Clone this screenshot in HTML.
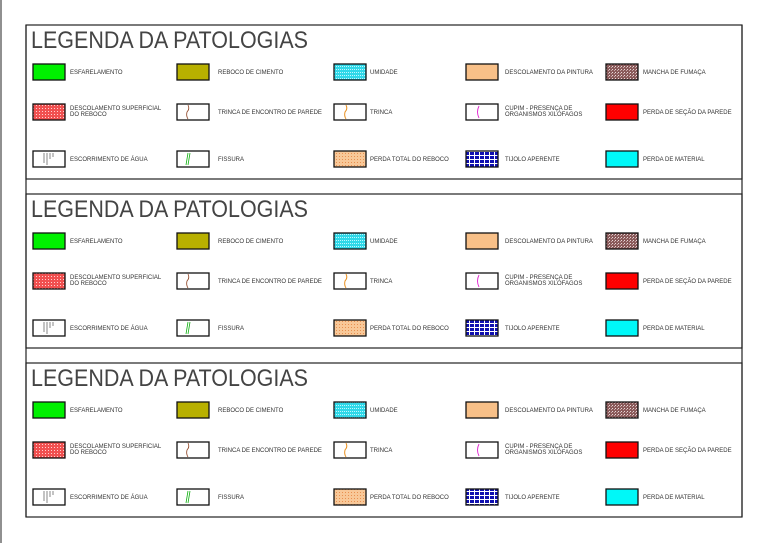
<!DOCTYPE html>
<html><head><meta charset="utf-8"><style>
html,body{margin:0;padding:0;background:#fff;width:768px;height:543px;overflow:hidden}
svg{display:block}
text{font-family:"Liberation Sans",sans-serif}
</style></head><body>
<svg id="s" width="768" height="543" viewBox="0 0 768 543" xmlns="http://www.w3.org/2000/svg">
<defs>
<pattern id="pRed" width="3" height="3" patternUnits="userSpaceOnUse"><rect width="3" height="3" fill="#f05050"/><rect width="1" height="1" fill="#ffd0d0"/></pattern>
<pattern id="pCyan" width="2" height="3" patternUnits="userSpaceOnUse"><rect width="2" height="3" fill="#30d8e8"/><rect width="1" height="1" fill="#c0f8ff"/></pattern>
<pattern id="pOrange" width="3" height="3" patternUnits="userSpaceOnUse"><rect width="3" height="3" fill="#f8c898"/><rect width="1" height="1" fill="#e89050"/></pattern>
<pattern id="pBrick" width="5" height="4" patternUnits="userSpaceOnUse"><rect width="5" height="4" fill="#fff"/><rect width="4" height="3" fill="#1010b0"/></pattern>
<pattern id="pSmoke" width="3" height="3" patternUnits="userSpaceOnUse"><rect width="3" height="3" fill="#8a5a5a"/><rect width="1" height="1" fill="#e8d8d8"/><rect x="2" y="1" width="1" height="1" fill="#c8a8a8"/></pattern>
</defs>
<line x1="1" y1="0" x2="1" y2="543" stroke="#222" stroke-width="1"/>
<line x1="742" y1="25" x2="742" y2="517" stroke="#222" stroke-width="1.2"/>
<line x1="26" y1="25" x2="26" y2="517" stroke="#222" stroke-width="1.2"/>
</svg>
<script>
const items = [
 ["ESFARELAMENTO","#00f000","solid"],["REBOCO DE CIMENTO","#b8b000","solid"],["UMIDADE","url(#pCyan)","solid"],["DESCOLAMENTO DA PINTURA","#f8c088","solid"],["MANCHA DE FUMAÇA","url(#pSmoke)","solid"],
 ["DESCOLAMENTO SUPERFICIAL|DO REBOCO","url(#pRed)","solid"],["TRINCA DE ENCONTRO DE PAREDE","#fff","crackBrown"],["TRINCA","#fff","crackOrange"],["CUPIM - PRESENÇA DE|ORGANISMOS XILÓFAGOS","#fff","crackPink"],["PERDA DE SEÇÃO DA PAREDE","#ff0000","solid"],
 ["ESCORRIMENTO DE ÁGUA","#fff","drip"],["FISSURA","#fff","crackGreen"],["PERDA TOTAL DO REBOCO","url(#pOrange)","solid"],["TIJOLO APERENTE","url(#pBrick)","solid"],["PERDA DE MATERIAL","#00f8f8","solid"]
];
const colX=[33,177,334,466,606], textX=[70,218,370,505,643];
const rowY=[64,104,151];
const panelTop=[25,194,363];
const svg=document.getElementById('s');
const NS="http://www.w3.org/2000/svg";
function mk(t,a,p){const e=document.createElementNS(NS,t);for(const k in a)e.setAttribute(k,a[k]);(p||svg).appendChild(e);return e;}
panelTop.forEach((top,pi)=>{
 const g=mk('g',{});
 
 
 const r=mk('rect',{x:26,y:top,width:716,height:154,fill:'none',stroke:'#222','stroke-width':1.2},g);
 
 
 const t=mk('text',{x:31,y:top+23,'font-size':24,fill:'#444',textLength:277,lengthAdjust:'spacingAndGlyphs'},g);
 t.textContent='LEGENDA DA PATOLOGIAS';
 
 
 const dy=top-25;
 items.forEach((it,i)=>{
  const c=i%5, rr=Math.floor(i/5);
  const x=colX[c], y=rowY[rr]+dy;
  const e=mk('g',{},g);
  
  
  const sw=mk('rect',{x:x,y:y,width:32,height:16,fill:it[1],stroke:'#111','stroke-width':1.3},e);
  
  
  const k=it[2];
  if(k==='crackBrown') mk('path',{d:`M${x+11} ${y+1} q2 4 -1 7 q-1 4 1 7`,stroke:'#8b4020',fill:'none','stroke-width':0.8},e);
  if(k==='crackOrange') mk('path',{d:`M${x+12} ${y+1} q2 4 -1 7 q-1 4 1 7`,stroke:'#e89020',fill:'none','stroke-width':1},e);
  if(k==='crackPink') mk('path',{d:`M${x+13} ${y+2} q-3 6 0 12`,stroke:'#e020d0',fill:'none','stroke-width':0.9},e);
  if(k==='crackGreen'){mk('path',{d:`M${x+11} ${y+2} l-2 12 M${x+13} ${y+2} l-2 12`,stroke:'#10b010',fill:'none','stroke-width':0.8},e);}
  if(k==='drip'){mk('path',{d:`M${x+11} ${y+2} v10 M${x+14} ${y+2} v12 M${x+17} ${y+2} v6 M${x+20} ${y+2} v4`,stroke:'#555',fill:'none','stroke-width':0.7},e);}
  const lines=it[0].split('|');
  const tx=mk('text',{x:textX[c],y:y+(lines.length>1?6:10),'font-size':6,fill:'#333'},e);
  lines.forEach((l,li)=>{const ts=mk('tspan',{x:textX[c],dy:li?6:0},tx);ts.textContent=l;});
  
  
 });
});
</script>
</body></html>
